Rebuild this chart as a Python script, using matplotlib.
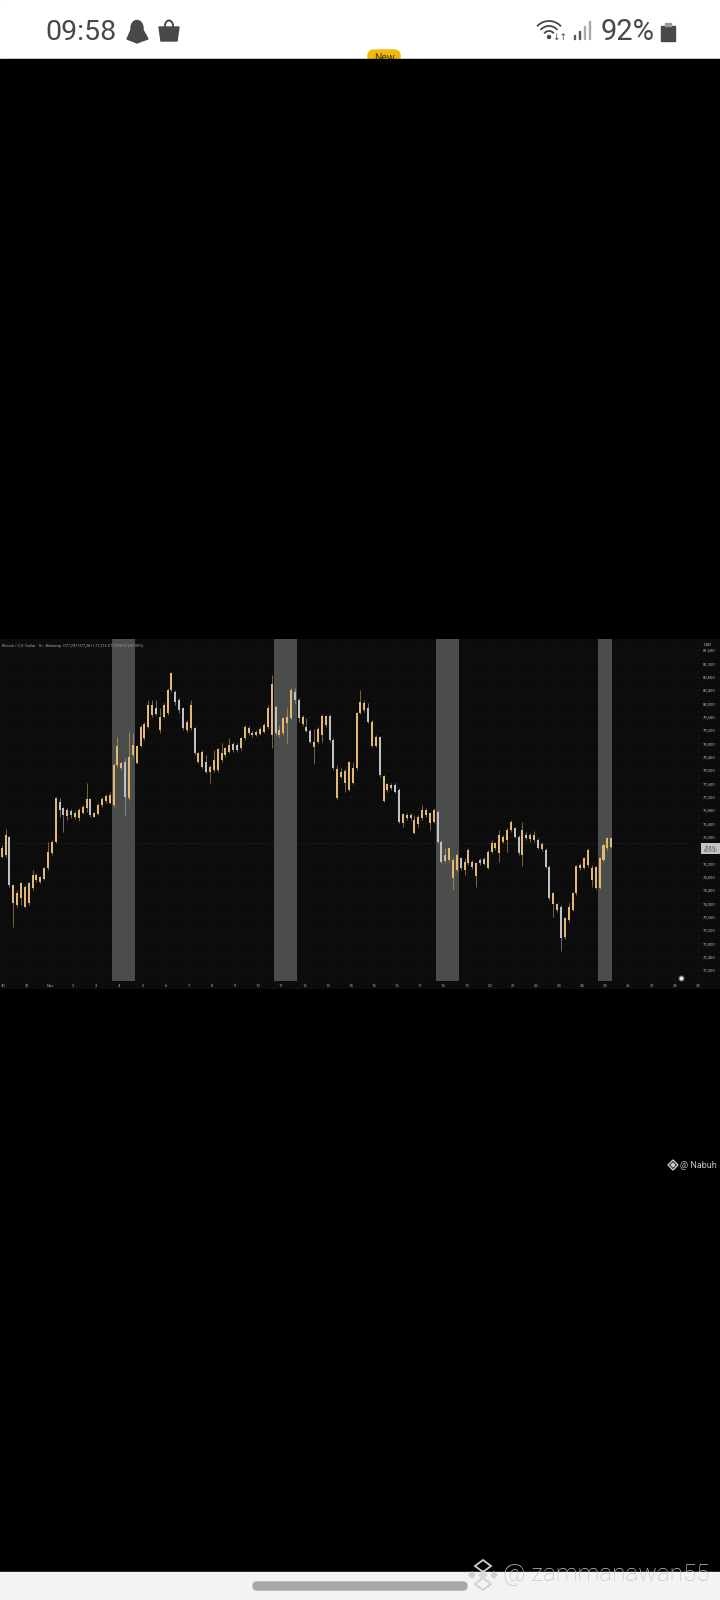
import numpy as np
import matplotlib
matplotlib.use("Agg")
import matplotlib.pyplot as plt
from matplotlib.patches import Rectangle, FancyBboxPatch, Ellipse, Polygon, Circle

# Candle data (4h candles)
opens = [75400,75450,76000,74000,73950,74150,73900,74000,74450,74700,
    74650,74720,75050,75500,75850,77050,76850,76620,76780,76580,
    76550,76720,76850,77120,76600,76680,76950,77080,77000,
    76950,78150,78050,78250,77150,78450,78200,78720,78950,79300,79650,
    79850,79200,79600,79700,80400,80350,80100,79850,79200,79250,
    79250,78250,78100,78250,77950,78000,78000,78300,78450,78550,78780,78750,
    78650,78950,79100,79120,79050,79080,79150,79280,
    79050,79900,79050,79100,79400,79550,80350,80100,79380,79280,
    79180,78700,78850,79050,79350,79620,78900,77150,77800,77600,
    77400,77600,78050,79720,79800,79850,78720,78720,78980,77080,
    77400,77550,77550,77400,76400,76550,76650,76100,76380,76550,76650,76400,76450,
    76750,75850,75280,75300,74750,75000,75350,75000,75200,75250,
    74820,75300,75320,75050,75550,75650,75500,75850,75900,76200,
    76250,76000,75450,76050,75920,75900,75900,75620,75600,75100,
    73980,73800,73900,73000,73500,73800,74300,75050,75050,75150,
    74700,74450,74450,75300,75650,75700]
closes = [75650,76050,74550,74550,74300,74600,74500,74600,74850,74850,
    74780,75050,75550,75850,77150,76800,76650,76800,76640,76720,
    76800,76880,77120,76650,76700,76950,77120,77220,77250,
    78150,78720,78200,77200,78400,78750,78720,79300,79380,79950,79950,
    79670,79600,79950,80400,80920,80050,79800,79250,79450,79950,
    78500,78500,78550,77950,78100,78300,78620,78500,78650,78750,78600,78600,
    78950,79280,79250,79050,79150,79220,79350,79850,
    80580,79100,79200,79550,79600,80400,80100,79550,79580,79180,
    78850,78850,79220,79620,79620,78900,78050,78020,77950,77980,
    78250,78050,79720,80050,80000,79450,79450,79000,77850,77820,
    77580,77450,77350,76450,76680,76650,76550,76500,76600,76800,76800,76700,76800,
    75850,75250,75450,75650,75300,75450,75050,75250,75600,75080,
    75200,75200,75180,75550,75800,75800,76050,76000,76200,76450,
    76000,75500,76200,75950,76050,76050,75650,75780,75100,74150,
    74300,73980,72950,73550,73900,74300,75120,75150,75350,75600,
    75050,75080,75350,75750,75950,75950]
highs = [75750,76220,76020,74550,74400,74650,74550,74650,75000,74900,
    74820,75100,75850,75900,77200,77150,76900,76850,76820,76780,
    76850,76950,77600,77150,76750,77000,77180,77280,77350,
    78200,79000,78250,78350,79150,79100,78750,79350,79450,80100,80100,
    80100,79850,80000,80450,80950,80400,80150,79900,79500,80100,
    79300,78550,78600,78450,78150,78600,78650,78800,78700,78950,78850,78800,
    79000,79350,79320,79180,79200,79280,79400,79950,
    80850,79950,79350,79600,79850,80450,80450,80150,79650,79550,
    79220,79220,79280,79680,79660,79680,78950,78150,78050,78020,
    78280,78250,79750,80400,80100,80000,79500,79050,79020,77850,
    77620,77600,77600,77450,76720,76700,76700,76650,76650,76950,76850,76750,76850,
    76800,75900,75650,75680,75350,75500,75400,75350,75650,75300,
    75250,75350,75380,75600,75900,75850,76200,76050,76250,76500,
    76300,76050,76450,76150,76100,76180,75950,75850,75650,75150,
    74350,74000,73950,73600,74000,74350,75150,75200,75400,75650,
    75150,75120,75400,75800,76000,76000]
lows = [75350,75400,74500,73300,73900,73950,73900,73950,74400,74650,
    74620,74700,75000,75450,75800,76600,76150,76500,76550,76520,
    76480,76680,76750,76600,76580,76650,76900,77020,76980,
    76900,78100,78000,76650,77100,78400,78180,78700,78900,79250,79600,
    79650,79100,79550,79650,80350,79950,79700,79200,79150,79200,
    78450,78200,78050,77900,77600,77950,77950,78250,78400,78500,78550,78550,
    78600,78900,79050,79000,79020,79050,79120,79220,
    78650,79050,79000,79050,78800,79500,80000,79450,79320,79150,
    78800,78180,78800,78850,79300,78850,78000,77120,77750,77350,
    77380,77580,78000,79680,79750,79420,78700,78700,77800,77050,
    77350,77400,77300,76400,76300,76500,76500,76070,76300,76500,76600,76200,76400,
    75800,75200,75250,75250,74400,74950,75000,74850,75150,75020,
    74480,75150,75150,75020,75500,75600,75250,75800,75550,76150,
    75950,75450,75120,75900,75850,75850,75620,75580,75050,74100,
    73580,73750,72580,72920,73450,73780,74250,75000,75020,75100,
    74480,74420,74420,75250,75600,75650]

# Axis labels
dateLabels = ["30","31","Nov"] + [str(d) for d in range(2,30)]
priceTicks = list(range(72000,81601,400))
lastPrice = 75810
bandStarts = [28.6,70.6,112.6,154.6]
bandEnds = [34.6,76.6,118.6,158.2]

goldCol = "#e2b873"
whiteCol = "#bfc2c4"

fig = plt.figure(figsize=(7.2,16),dpi=100,facecolor="black")
plt.rcParams["font.family"] = ["Roboto","DejaVu Sans"]

# Phone screen in pixel coordinates
screen = fig.add_axes([0,0,1,1])
screen.set_xlim(0,720)
screen.set_ylim(1600,0)
screen.axis("off")
screen.add_patch(Rectangle((0,0),720,59,color="white",zorder=1))
screen.add_patch(FancyBboxPatch((368,50),32,15,boxstyle="round,pad=0,rounding_size=6",color="#f0b90b",zorder=1))
screen.text(384,58,"New",fontsize=7.5,color="#4a3a00",ha="center",va="center",zorder=1,clip_on=True)
screen.add_patch(Rectangle((0,59),720,541,color="black",zorder=2))
screen.add_patch(Rectangle((0,1572),720,28,color="#f3f3f6",zorder=3))
screen.add_patch(FancyBboxPatch((253,1582),214,8,boxstyle="round,pad=0,rounding_size=4",color="#a8a8a8",zorder=4))

# Status bar
statusCol = "#484848"
screen.text(45,32,"09:58",fontsize=20.5,color=statusCol,va="center",ha="left",zorder=5)
screen.text(601,32,"92%",fontsize=21,color=statusCol,va="center",ha="left",zorder=5)
# ghost icon
screen.add_patch(Ellipse((137,28),12,15,color=statusCol,zorder=5))
screen.add_patch(Polygon([[127,39],[131,30],[143,30],[148,39],[142,41],[137,43],[132,41]],color=statusCol,zorder=5))
# bag icon
screen.add_patch(Polygon([[159,27],[179,27],[177,41],[161,41]],color=statusCol,zorder=5))
screen.add_patch(Ellipse((169,26),8,11,fill=False,ec=statusCol,lw=1.4,zorder=5))
# wifi
for r in [6,11,16]:
    t = np.linspace(np.pi*1.25,np.pi*1.75,20)
    screen.plot(549+r*np.cos(t),37+r*np.sin(t),color=statusCol,lw=1.3,zorder=5)
screen.add_patch(Circle((549,37),1.5,color=statusCol,zorder=5))
screen.text(552,38,"\u2193\u2191",fontsize=6.5,color=statusCol,va="center",ha="left",zorder=5)
# signal bars
for k,(x,h) in enumerate(zip([574,579,584,589],[4,8,13,18])):
    screen.add_patch(Rectangle((x,39-h),1.4,h,color="#555555" if k<2 else "#aaaaaa",zorder=5))
# battery
screen.add_patch(Rectangle((661,26),14,15,color=statusCol,zorder=5))
screen.add_patch(Rectangle((665,23),6,3,color="#999999",zorder=5))

# Chart
ax = fig.add_axes([0,1-989/1600,1,350/1600],facecolor="#0c0c0c",zorder=6)
ax.set_xlim(-0.44,186.2)
ax.set_ylim(71430,81930)
for s in ax.spines.values():
    s.set_visible(False)

# Date and price ticks sit inside the plot
ticksX = [12.5+6*k for k in range(-2,29)]
ax.set_xticks(ticksX)
ax.set_xticklabels(dateLabels,fontsize=3,color="#a8a8a8")
ax.tick_params(axis="x",length=0,pad=-3.5)
ax.yaxis.tick_right()
ax.set_yticks(priceTicks)
ax.set_yticklabels(["{:,}".format(p) for p in priceTicks],fontsize=3,color="#b0b0b0")
ax.tick_params(axis="y",length=0,pad=-12.2)
ax.grid(True,color="#131313",lw=0.5,zorder=0)
ax.set_axisbelow(True)

# Current price line, under the bands
ax.plot([-0.44,178],[lastPrice,lastPrice],color="#2c2c2c",lw=0.6,ls=":",zorder=0.5)

# Weekly bands
for a,b in zip(bandStarts,bandEnds):
    ax.axvspan(a,b,ymin=8/350,ymax=1,color="#4b4d4a",lw=0,zorder=1)

# Candles
idx = np.arange(len(opens))
o = np.array(opens)
c = np.array(closes)
colors = [goldCol if b>=a else whiteCol for a,b in zip(o,c)]
ax.vlines(idx,lows,highs,colors=colors,lw=0.55,alpha=0.65,zorder=3)
ax.bar(idx,np.abs(c-o),bottom=np.minimum(o,c),width=0.52,color=colors,lw=0,zorder=4)

# Title and price scale extras
ax.text(2/720,1-7/350,"Bitcoin / U.S. Dollar \u00b7 1h \u00b7 Bitstamp  O77,237 H77,261 L77,216 C77,233 +1 (+0.00%)",
    transform=ax.transAxes,fontsize=2.75,color="#a8a8a8",va="center",ha="left",zorder=7)
ax.text(708/720,1-6/350,"USD",transform=ax.transAxes,fontsize=3,color="#c8c8c8",va="center",ha="center",zorder=7)
trans = ax.get_yaxis_transform()
ax.add_patch(Rectangle((701/720,75470),19/720,330,transform=trans,color="#c4c4c4",lw=0,zorder=7))
ax.text(710.5/720,75700,"{:,}".format(lastPrice),transform=trans,fontsize=2.8,color="#333333",ha="center",va="center",zorder=8)
ax.text(710.5/720,75560,"00:27:41",transform=trans,fontsize=2.6,color="#333333",ha="center",va="center",zorder=8)
ax.scatter([176.1],[71760],s=22,color="#8a8270",alpha=0.5,lw=0,zorder=7)
ax.scatter([176.1],[71760],s=9,color="#f0e8d8",lw=0,zorder=8)

# Watermarks over everything
over = fig.add_axes([0,0,1,1],zorder=10)
over.set_xlim(0,720)
over.set_ylim(1600,0)
over.axis("off")
over.patch.set_alpha(0)
over.add_patch(Polygon([[673,1160],[678,1165],[673,1170],[668,1165]],fc="none",ec="#cccccc",lw=1))
over.add_patch(Polygon([[673,1163],[675,1165],[673,1167],[671,1165]],color="#cccccc"))
over.text(680,1165,"@ Nabuh",fontsize=6.5,color="#c4c4c4",va="center",ha="left")
for dy in [-9,9]:
    over.add_patch(Polygon([[483,1575+dy-6],[491,1575+dy],[483,1575+dy+6],[475,1575+dy]],fc="none",ec="#cfcfcf",lw=1.3))
over.add_patch(Polygon([[483,1571],[487,1575],[483,1579],[479,1575]],color="#d8d8d8"))
over.add_patch(Polygon([[472,1572],[475,1575],[472,1578],[469,1575]],color="#cfcfcf"))
over.add_patch(Polygon([[494,1572],[497,1575],[494,1578],[491,1575]],color="#cfcfcf"))
over.text(503,1575,"@ zammanawan55",fontsize=17.6,color="#c4c4c4",va="center",ha="left",fontweight="light")

fig.savefig("out.png",dpi=100,facecolor="black")
